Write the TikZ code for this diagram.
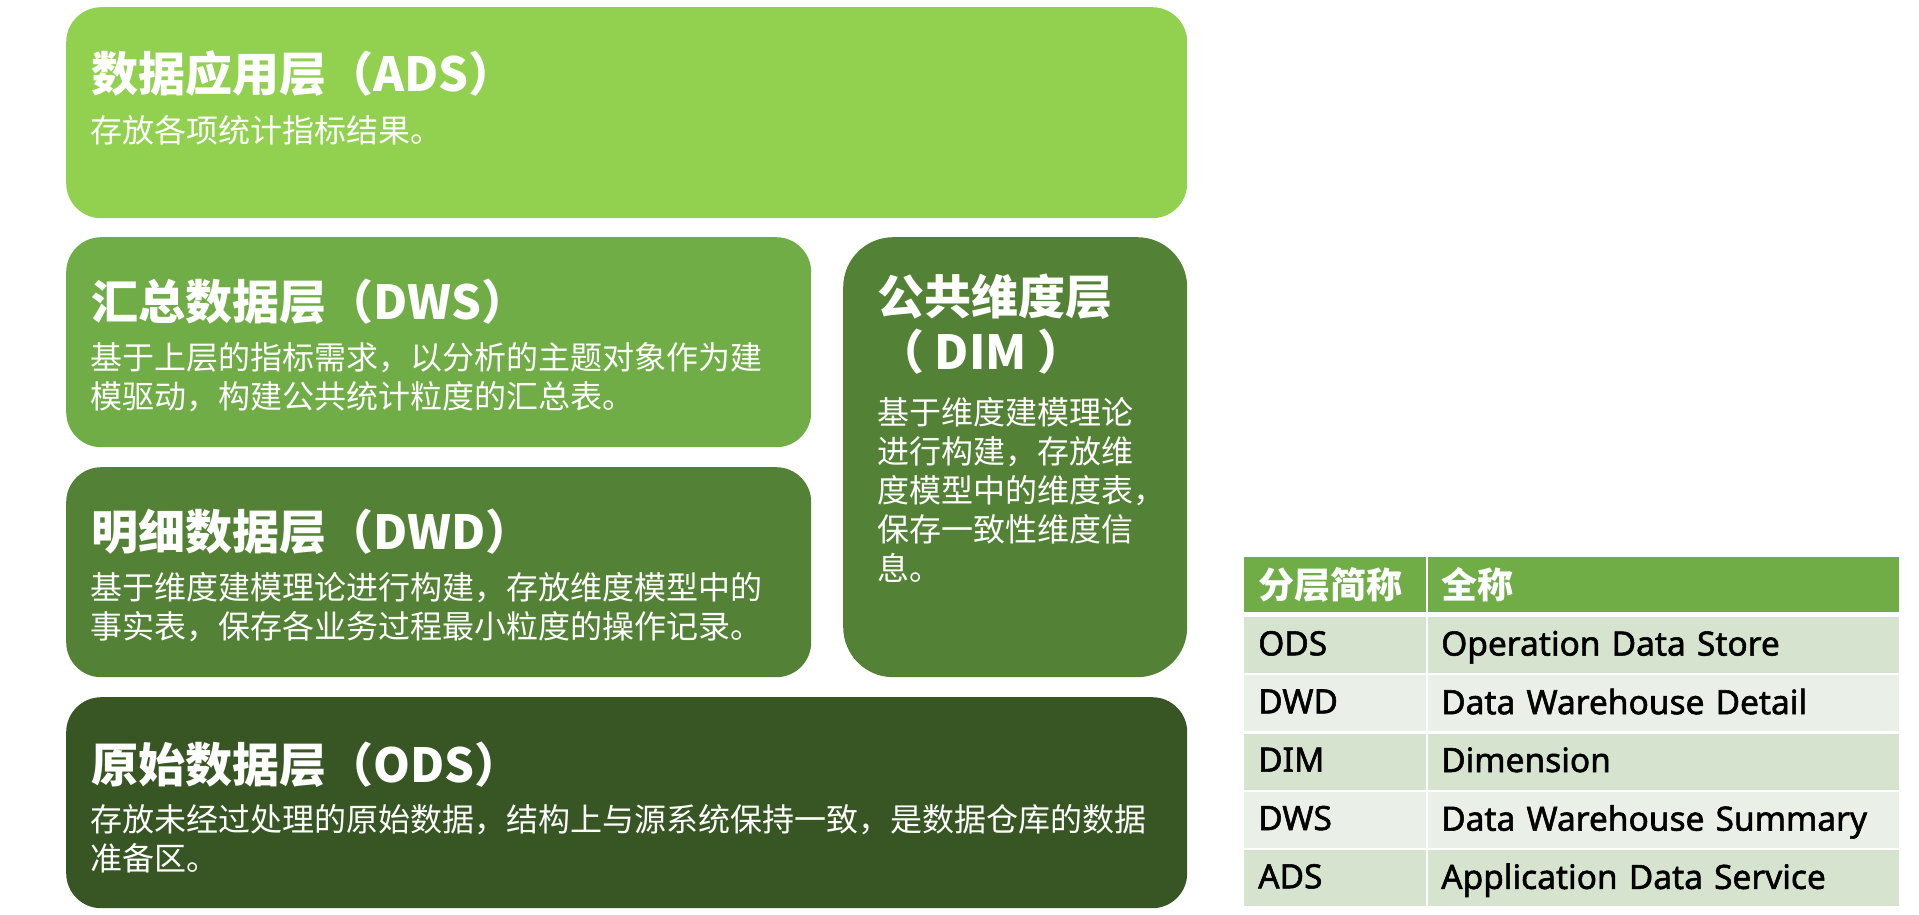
\documentclass[tikz,border=0pt]{standalone}
\usepackage{fontspec}
\setmainfont{Noto Sans}
\newfontfamily\cjk{Noto Sans CJK SC}
\newfontfamily\tabfont{Noto Sans}[FakeBold=1.6]

\definecolor{adsgreen}{HTML}{92D050}
\definecolor{dwsgreen}{HTML}{70AD47}
\definecolor{dwdgreen}{HTML}{538135}
\definecolor{odsgreen}{HTML}{375623}
\definecolor{rowodd}{HTML}{D5E3CF}
\definecolor{roweven}{HTML}{EAF0E8}

\begin{document}
\begin{tikzpicture}[x=1pt,y=-1pt]
      \tikzset{
        layer/.style={rounded corners=35pt,inner sep=0pt,anchor=north west},
        title/.style={anchor=west,inner sep=0pt,text=white,align=left,
          font=\cjk\bfseries\fontsize{47}{55}\selectfont},
        desc/.style={anchor=west,inner sep=0pt,text=white,align=left,
          font=\cjk\fontsize{32}{39}\selectfont},
        head/.style={anchor=north west,fill=dwsgreen,text=white,minimum height=55pt,
          align=left,inner ysep=0pt,font=\cjk\bfseries\fontsize{36}{40}\selectfont},
        cell/.style={anchor=north west,minimum height=56pt,text=black,
          align=left,inner ysep=0pt,text depth=4pt,font=\tabfont\fontsize{33.5}{40}\selectfont},
        short/.style={inner xsep=14pt,text width=154pt},
        long/.style={inner xsep=13pt,text width=445pt}
      }
      \useasboundingbox (0,0) rectangle (1919,915);

      % layers
      \node[layer,fill=adsgreen,minimum width=1121pt,minimum height=211pt] (ads) at (66,7) {};
      \node[layer,fill=dwsgreen,minimum width=745pt,minimum height=210pt] (dws) at (66,237) {};
      \node[layer,fill=dwdgreen,minimum width=745pt,minimum height=210pt] (dwd) at (66,467) {};
      \node[layer,fill=dwdgreen,rounded corners=50pt,minimum width=344pt,minimum height=440pt] (dim) at (843,237) {};
      \node[layer,fill=odsgreen,minimum width=1121pt,minimum height=211pt] (ods) at (66,697) {};

      \node[title] (adsT) at (91,74) {数据应用层（ADS）};
      \node[desc] (adsB) at (90,130) {存放各项统计指标结果。};

      \node[title] (dwsT) at (91,302) {汇总数据层（DWS）};
      \node[desc] (dwsB) at (90,377.5) {基于上层的指标需求，以分析的主题对象作为建\\模驱动，构建公共统计粒度的汇总表。};

      \node[title] (dwdT) at (91,532) {明细数据层（DWD）};
      \node[desc] (dwdB) at (90,607.5) {基于维度建模理论进行构建，存放维度模型中的\\事实表，保存各业务过程最小粒度的操作记录。};

      \node[title] (dimT) at (877,324.5) {公共维度层\\（ DIM ）};
      \node[desc] (dimB) at (877,490) {基于维度建模理论\\进行构建，存放维\\度模型中的维度表，\\保存一致性维度信\\息。};

      \node[title] (odsT) at (91,765) {原始数据层（ODS）};
      \node[desc] (odsB) at (90,838.5) {存放未经过处理的原始数据，结构上与源系统保持一致，是数据仓库的数据\\准备区。};

      % table
      \node[head,short] (h1) at (1244,557) {分层简称};
      \node[head,long] (h2) at (1428,557) {全称};
      \foreach \i/\abbr/\full/\col in {0/ODS/Operation Data Store/rowodd,
                                       1/DWD/Data Warehouse Detail/roweven,
                                       2/DIM/Dimension/rowodd,
                                       3/DWS/Data Warehouse Summary/roweven,
                                       4/ADS/Application Data Service/rowodd}{
        \node[cell,short,fill=\col] (a\i) at (1244,617+58.25*\i) {\abbr};
        \node[cell,long,fill=\col] (f\i) at (1428,617+58.25*\i) {\full};
      }
\end{tikzpicture}
\end{document}
